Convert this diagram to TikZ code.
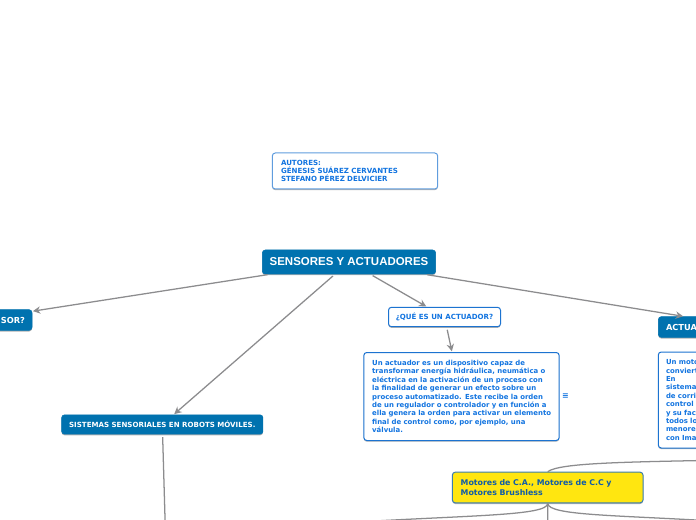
\documentclass[tikz,border=0pt]{standalone}
\usepackage{fontspec}
\setmainfont{DejaVu Sans}[BoldFont={DejaVu Sans Bold}]
\newfontfamily\titlefont{Liberation Sans}[BoldFont={Liberation Sans Bold}]
\usetikzlibrary{arrows.meta,shadows}
\definecolor{mainblue}{HTML}{0072AF}
\definecolor{textblue}{HTML}{1274E0}
\definecolor{edgeblue}{HTML}{1C73D0}
\definecolor{linegray}{HTML}{8C8C8E}
\definecolor{sunny}{HTML}{FFE610}
\definecolor{sunnytext}{HTML}{0F5CA8}
\definecolor{sunnyedge}{HTML}{3A7DB0}
\tikzset{
  x=0.75pt,y=-0.75pt,
  base/.style={rounded corners=2.2pt,inner sep=0pt,anchor=center,font=\bfseries,
    drop shadow={shadow xshift=0pt,shadow yshift=-0.9pt,fill=black,opacity=.3}},
  solid box/.style={base,fill=mainblue,text=white,draw=mainblue,line width=.4pt},
  light box/.style={base,fill=white,text=textblue,draw=edgeblue,line width=.75pt},
  small/.style={font=\bfseries\fontsize{5.3}{6.3}\selectfont},
  body/.style={font=\bfseries\fontsize{5.2}{6.3}\selectfont},
  big/.style={font=\bfseries\fontsize{6.2}{7}\selectfont},
  conn/.style={draw=linegray,line width=.95pt,-{Stealth[length=5.5pt,width=5.5pt]},shorten <=2pt,shorten >=0.5pt},
  plain conn/.style={draw=linegray,line width=.95pt},
}
\begin{document}
\begin{tikzpicture}
\useasboundingbox (0,0) rectangle (696,520);
\clip (0,0) rectangle (696,520);
\fill[white] (0,0) rectangle (696,520);

\node[light box,small,minimum width=124pt,minimum height=27pt,text width=111pt,align=left,draw=edgeblue!70] (autores) at (355,171)
  {AUTORES:\\GÉNESIS SUÁREZ CERVANTES\\STEFANO PÉREZ DELVICIER};
\node[solid box,minimum width=130pt,minimum height=18pt,font=\titlefont\bfseries\fontsize{8.6}{10}\selectfont] (root) at (349,262) {SENSORES Y ACTUADORES};
\node[solid box,big,minimum width=84pt,minimum height=15.5pt,text width=73.5pt,align=right] (sensor) at (-24,320) {SOR?};
\node[solid box,small,minimum width=151pt,minimum height=14.5pt] (sistemas) at (162.3,424.5) {SISTEMAS SENSORIALES EN ROBOTS MÓVILES.};
\node[light box,small,minimum width=84pt,minimum height=14.5pt] (quees) at (444.5,317) {¿QUÉ ES UN ACTUADOR?};
\node[light box,body,minimum width=146.5pt,minimum height=66pt,text width=134pt,align=left] (desc) at (461.5,396.5)
  {\mbox{Un actuador es un dispositivo capaz de}\\\mbox{transformar energía hidráulica, neumática o}\\\mbox{eléctrica en la activación de un proceso con}\\\mbox{la finalidad de generar un efecto sobre un}\\\mbox{proceso automatizado. Este recibe la orden}\\\mbox{de un regulador o controlador y en función a}\\\mbox{ella genera la orden para activar un elemento}\\\mbox{final de control como, por ejemplo, una}\\\mbox{válvula.}};
\node[text=textblue,font=\bfseries\fontsize{6}{7}\selectfont,inner sep=0pt] (menu) at (565.5,396) {≡};
\node[solid box,big,minimum width=136pt,minimum height=15.5pt,text width=124.5pt,align=left] (actua) at (749,327) {ACTUA};
\node[light box,body,minimum width=136pt,minimum height=72pt,text width=124.5pt,align=left] (motor) at (749,400)
  {Un moto\\conviert\\En\\sistema\\de corri\\control\\y su fac\\todos lo\\menores\\con Ima};
\node[base,fill=sunny,draw=sunnyedge,line width=.75pt,text=sunnytext,minimum width=143pt,minimum height=23pt,text width=130.5pt,align=left,font=\bfseries\fontsize{5.9}{7.6}\selectfont] (yellow) at (547.7,487.5)
  {Motores de C.A., Motores de C.C y\\Motores Brushless};

\coordinate (down) at (165.5,535);
\coordinate (fromright) at (730,460);
\coordinate (leftchild) at (340,523);
\coordinate (midchild) at (548,535);
\coordinate (rightchild) at (730,522);

\draw[conn] (root) -- (sensor);
\draw[conn] (root) -- (sistemas);
\draw[conn] (root) -- (quees);
\draw[conn] (root) -- (actua);
\draw[conn] (quees) -- (desc);
\draw[plain conn,shorten <=2pt] (sistemas) -- (down);
\draw[plain conn] (fromright) .. controls (620,462) and (560,463) .. (yellow.north);
\draw[plain conn,shorten <=1pt] (yellow.south) -- (midchild);
\draw[plain conn] (yellow.south) .. controls (548,516) and (470,515) .. (leftchild);
\draw[plain conn] (yellow.south) .. controls (548,516) and (620,515) .. (rightchild);
\end{tikzpicture}
\end{document}
